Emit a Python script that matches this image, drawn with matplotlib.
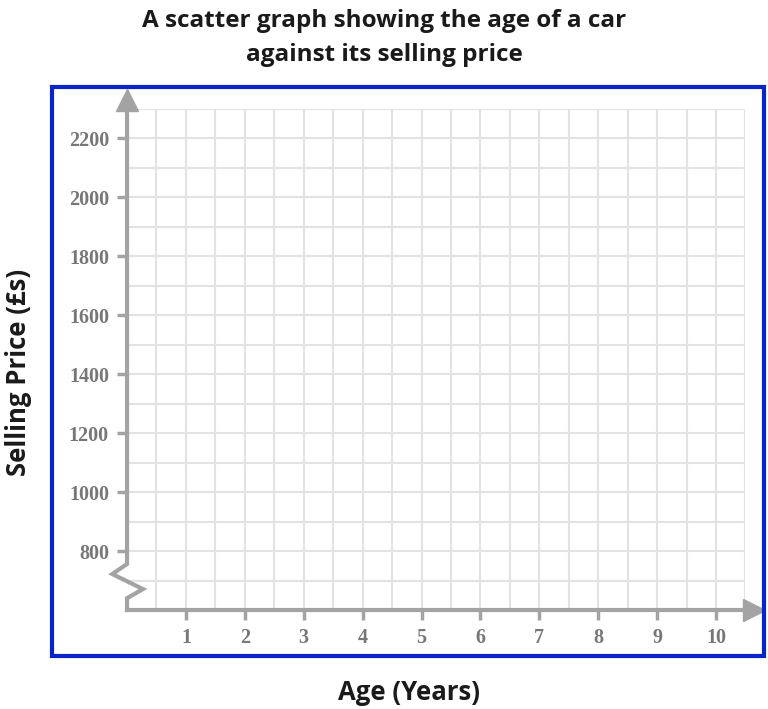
import numpy as np
import matplotlib.pyplot as plt
from matplotlib.patches import Rectangle

# datos: grafico vacio, solo ejes y cuadricula
x_ticks = [1, 2, 3, 4, 5, 6, 7, 8, 9, 10]
y_ticks = [800, 1000, 1200, 1400, 1600, 1800, 2000, 2200]
x_lim = (0, 10.5)
y_lim = (600, 2300)

gris_eje = "#a3a3a3"
gris_texto = "#777777"
gris_grid = "#e3e3e3"
azul = "#0a24c8"

fig = plt.figure(figsize=(7.68, 7.09), dpi=100)

# marco azul alrededor de la zona del grafico
fig.patches.append(Rectangle((0.0677, 0.0748), 0.9271, 0.8025, transform=fig.transFigure,
                             fill=False, edgecolor=azul, linewidth=3))

ax = fig.add_axes([0.1654, 0.1396, 0.8053, 0.7072])
ax.set_xlim(*x_lim)
ax.set_ylim(*y_lim)
for s in ax.spines.values():
    s.set_visible(False)

# cuadricula cada 0.5 en x y cada 100 en y
ax.set_xticks(np.arange(0.5, 10.51, 0.5), minor=True)
ax.set_yticks(np.arange(600, 2301, 100), minor=True)
ax.set_xticks(x_ticks)
ax.set_yticks(y_ticks)
ax.grid(which="both", color=gris_grid, linewidth=1.5)
ax.set_axisbelow(True)

ax.tick_params(which="minor", length=0)
ax.tick_params(which="major", direction="out", length=7, width=2.5, color=gris_eje,
               labelcolor=gris_texto, labelsize=14.5, pad=6)
for lab in ax.get_xticklabels() + ax.get_yticklabels():
    lab.set_family("Liberation Serif")
    lab.set_fontweight("bold")

# eje y con zigzag de corte y eje x
ax.plot([0, 0, -0.25, 0.27, 0, 0], [2300, 756, 722, 671, 640, 600], color=gris_eje,
        linewidth=3, clip_on=False, solid_joinstyle="miter", zorder=3)
ax.plot([0, 10.5], [600, 600], color=gris_eje, linewidth=3, clip_on=False, zorder=3)
ax.plot([0], [2329], marker="^", markersize=16, color=gris_eje, clip_on=False, zorder=3)
ax.plot([10.65], [600], marker=">", markersize=16, color=gris_eje, clip_on=False, zorder=3)

fig.text(0.5, 0.946, "A scatter graph showing the age of a car\nagainst its selling price",
         ha="center", va="center", fontsize=17.5, fontweight="bold", family="Open Sans",
         color="#1a1a1a", linespacing=1.55)
fig.text(0.532, 0.023, "Age (Years)", ha="center", va="center", fontsize=18.5,
         fontweight="bold", family="Open Sans", color="#1a1a1a")
fig.text(0.024, 0.475, "Selling Price (£s)", ha="center", va="center", rotation=90,
         fontsize=18.5, fontweight="bold", family="Open Sans", color="#1a1a1a")

fig.savefig("out.png", dpi=100)
